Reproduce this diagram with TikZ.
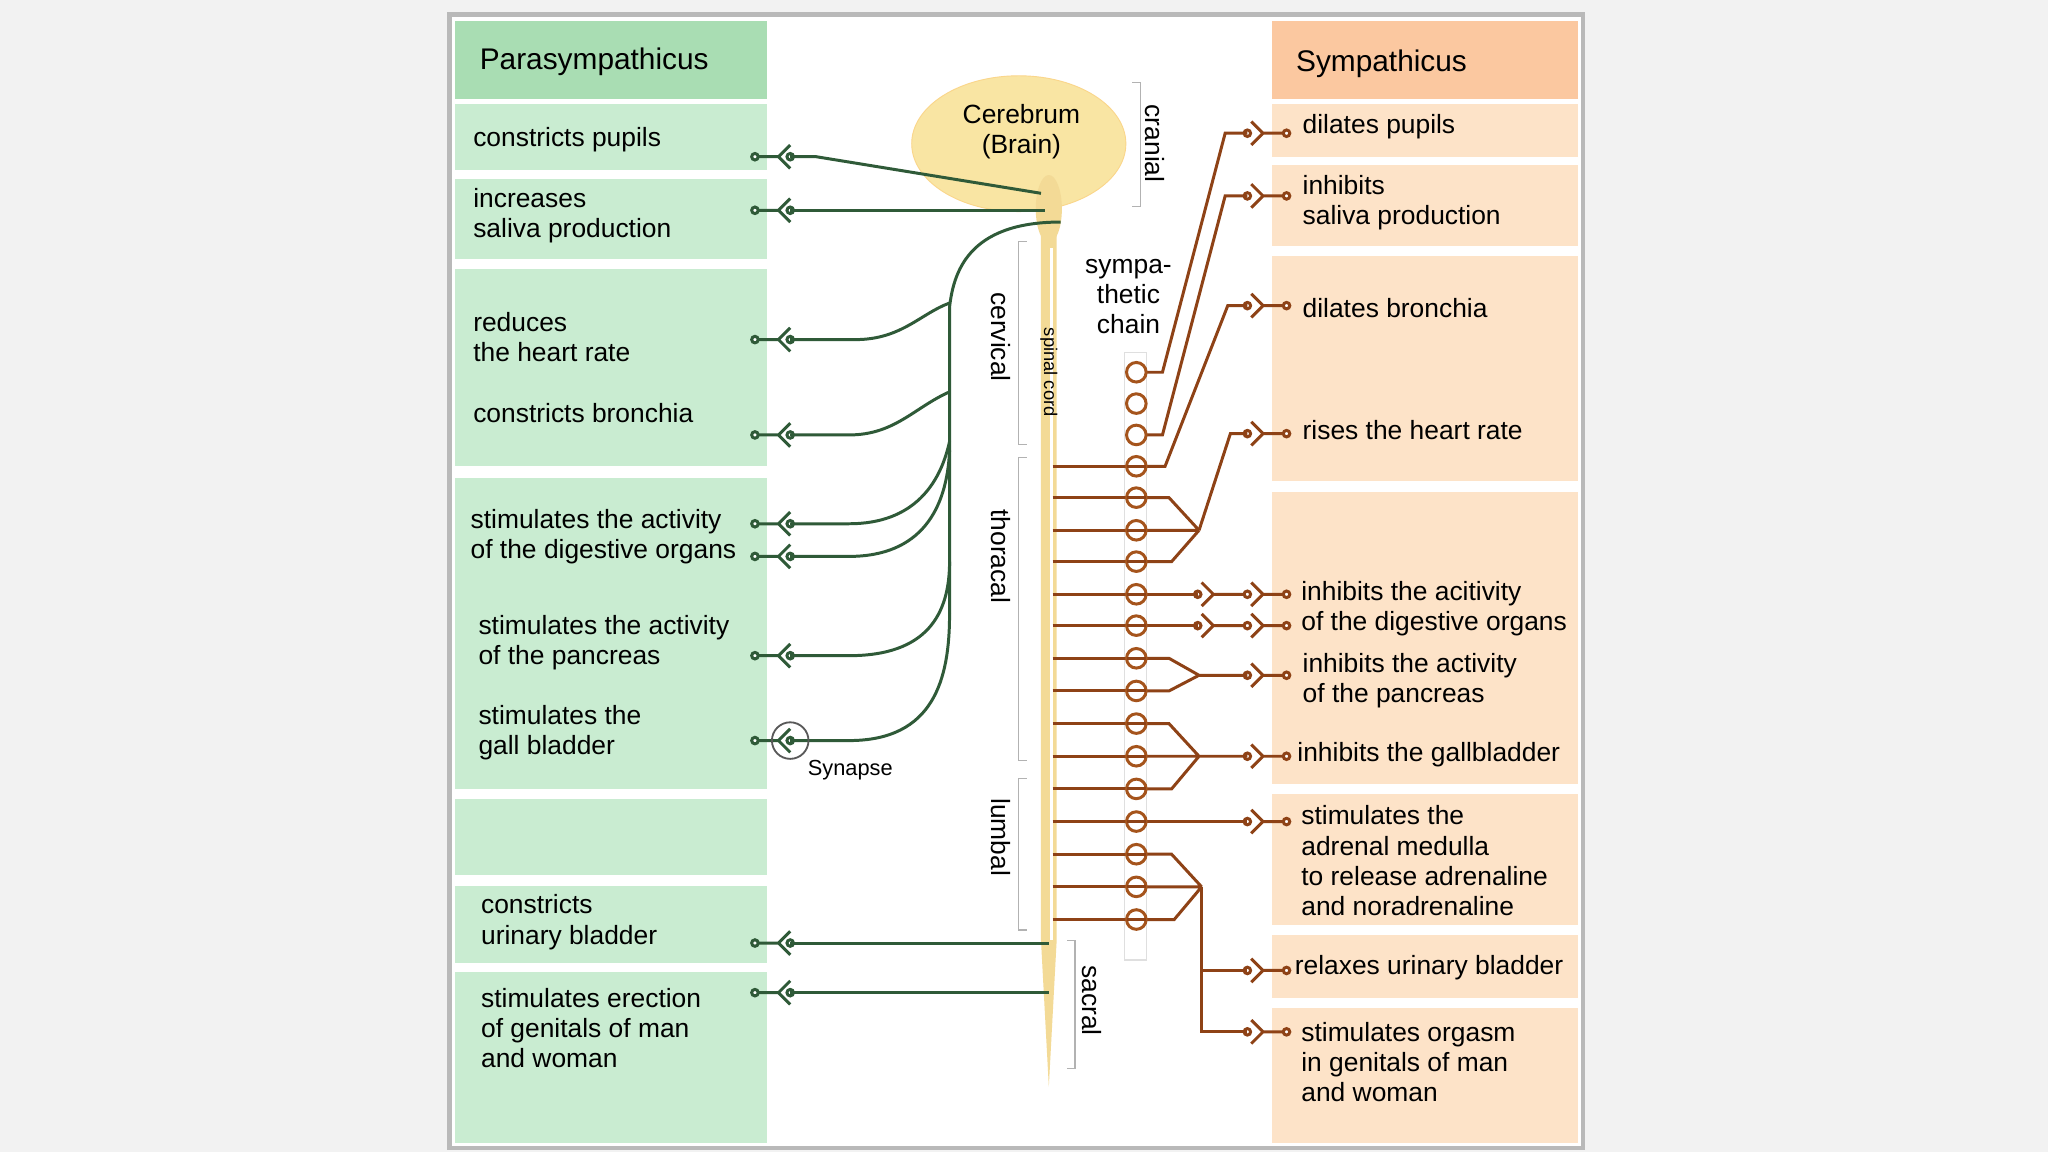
\documentclass[tikz,border=0pt]{standalone}
\usepackage{fontspec}
\setmainfont{Liberation Sans}
\usetikzlibrary{shapes.geometric}
\begin{document}
\begin{tikzpicture}[x=0.02cm,y=-0.02cm,
  lab/.style={anchor=west,align=left,inner sep=0pt,font=\fontsize{11.5}{13.2}\selectfont},
  head/.style={anchor=west,inner sep=0pt,font=\fontsize{13}{15}\selectfont},
  gl/.style={draw=gline,line width=1.3pt},
  ol/.style={draw=oline,line width=1.3pt},
  gang/.style={draw=gang,line width=1.3pt,fill=white},
  brk/.style={draw=gray!60,line width=0.5pt},
  osyn/.pic={\draw[ol] (0,0) circle (2.5) (3,-9)--(12,0)--(3,9) (12,0)--(27.5,0); \draw[ol,fill=white] (30,0) circle (2.5);},
  osynb/.pic={\draw[ol] (0,0) circle (2.5) (3,-9)--(12,0)--(3,9) (12,0)--(35,0);},
  gsyn/.pic={\draw[gl] (0,0) circle (2.5) (0,-9)--(-9,0)--(0,9) (-9,0)--(-24.5,0); \draw[gl,fill=white] (-27,0) circle (2.5);}
]
\definecolor{bg}{HTML}{F2F2F2}
\definecolor{gh}{HTML}{A9DDB3}
\definecolor{gb}{HTML}{C9ECD1}
\definecolor{oh}{HTML}{FBC8A0}
\definecolor{ob}{HTML}{FDE3C8}
\definecolor{gline}{HTML}{2F5A38}
\definecolor{oline}{HTML}{8E4216}
\definecolor{gang}{HTML}{A5541C}
\definecolor{brain}{HTML}{F9E5A3}
\definecolor{cord}{HTML}{F3DA96}
\useasboundingbox (0,0) rectangle (1568,882);
\fill[bg] (0,0) rectangle (1568,882);
\draw[fill=white,draw=gray!55,line width=2pt] (344,11) rectangle (1212,879);
% green column
\fill[gh] (348,16) rectangle (587,76);
\foreach \a/\b in {80/130,137/198,206/357,366/604,612/670,678/737,744/875}
  \fill[gb] (348,\a) rectangle (587,\b);
% orange column
\fill[oh] (974,16) rectangle (1208,76);
\foreach \a/\b in {80/120,126/188,196/368,377/600,608/708,716/764,772/875}
  \fill[ob] (974,\a) rectangle (1208,\b);
\node[head] (ph) at (367,47) {Parasympathicus};
\node[head] (sh) at (992,49) {Sympathicus};
% brain and cord
\node[ellipse,draw=brain!85!orange,fill=brain,minimum width=3.28cm,minimum height=2.08cm,inner sep=0pt] (brainn) at (780,110) {};
\node[align=center,inner sep=0pt,font=\fontsize{11.5}{13.2}\selectfont] (braint) at (782,101) {Cerebrum\\(Brain)};
\fill[cord] (797,170) -- (797,720) -- (803,832) -- (809,720) -- (809,170) -- cycle;
\fill[cord] (803,160) ellipse (10 and 26);
\draw[white,line width=1.2pt] (805,190) -- (805,720);
\node[rotate=-90,inner sep=0pt,font=\fontsize{8}{9}\selectfont] (sc) at (803,285) {spinal cord};
% brackets
\draw[brk] (867,63)--(873,63)--(873,158)--(867,158);
\draw[brk] (786,185)--(780,185)--(780,340)--(786,340);
\draw[brk] (786,350)--(780,350)--(780,582)--(786,582);
\draw[brk] (786,596)--(780,596)--(780,712)--(786,712);
\draw[brk] (817,720)--(823,720)--(823,818)--(817,818);
\node[rotate=-90,font=\fontsize{11.5}{13}\selectfont] (cran) at (884,110) {cranial};
\node[rotate=-90,font=\fontsize{11.5}{13}\selectfont] (cerv) at (766,258) {cervical};
\node[rotate=-90,font=\fontsize{11.5}{13}\selectfont] (thor) at (766,426) {thoracal};
\node[rotate=-90,font=\fontsize{11.5}{13}\selectfont] (lumb) at (766,641) {lumbal};
\node[rotate=-90,font=\fontsize{11.5}{13}\selectfont] (sacr) at (836,766) {sacral};
\node[align=center,inner sep=0pt,font=\fontsize{11.5}{13.2}\selectfont] (chain) at (864,227) {sympa-\\thetic\\chain};
\draw[draw=gray!25,line width=0.6pt] (861,270) rectangle (878,735);
% parasympathetic lines
\draw[gl] (605,120) -- (625,120) -- (797,148);
\draw[gl] (605,161) -- (800,161);
\draw[gl] (812,170) .. controls (740,170) and (730,210) .. (727,235) -- (727,470);
\draw[gl] (605,260) -- (655,260) .. controls (690,260) and (705,240) .. (727,232);
\draw[gl] (605,333) -- (650,333) .. controls (685,333) and (700,312) .. (727,300);
\draw[gl] (605,401) -- (650,401) .. controls (700,401) and (720,370) .. (727,338);
\draw[gl] (605,426) -- (650,426) .. controls (705,426) and (725,390) .. (727,345);
\draw[gl] (605,502) -- (650,502) .. controls (710,502) and (727,470) .. (727,430);
\draw[gl] (605,567) -- (650,567) .. controls (715,567) and (727,520) .. (727,470);
\draw[gl] (605,722) -- (803,722);
\draw[gl] (605,760) -- (803,760);
\foreach \y in {120,161,260,333,401,426,502,567,722,760} \pic at (605,\y) {gsyn};
\draw[gray!70!black,line width=0.8pt] (605,567) circle (14);
\node[inner sep=0pt,font=\fontsize{9.5}{11}\selectfont] (syn) at (651,590) {Synapse};
% sympathetic preganglionic
\foreach \y in {357,381,406,430,455,479,504,529,554,579,604,629,654,679,704}
  \draw[ol] (806,\y) -- (870,\y);
% postganglionic
\draw[ol] (870,285) -- (890,285) -- (938,102) -- (955,102);
\draw[ol] (870,333) -- (890,333) -- (938,150) -- (955,150);
\draw[ol] (870,357) -- (892,357) -- (940,234) -- (955,234);
\draw[ol] (870,381) -- (895,381) -- (918,406) (870,406) -- (918,406) (870,430) -- (897,430) -- (918,406);
\draw[ol] (918,406) -- (942,332) -- (955,332);
\draw[ol] (870,455) -- (917,455);
\draw[ol] (870,479) -- (917,479);
\draw[ol] (870,504) -- (895,504) -- (918,517) -- (955,517) (870,529) -- (895,529) -- (918,517);
\draw[ol] (870,554) -- (895,554) -- (918,579) (870,579) -- (955,579) (870,604) -- (897,604) -- (918,579);
\draw[ol] (870,629) -- (955,629);
\draw[ol] (870,654) -- (897,654) -- (920,679) (870,679) -- (920,679) (870,704) -- (899,704) -- (920,679);
\draw[ol] (920,679) -- (920,790) -- (955,790) (920,743) -- (955,743);
\foreach \y in {455,479} \pic at (917,\y) {osynb};
\foreach \y in {102,150,234,332,455,479,517,579,629,743,790} \pic at (955,\y) {osyn};
% ganglia
\foreach \y in {285,309,333,357,381,406,430,455,479,504,529,554,579,604,629,654,679,704}
  \draw[gang] (870,\y) circle (7.5);
\foreach \y in {357,381,406,430,455,479,504,529,554,579,604,629,654,679,704}
  \draw[ol] (862.5,\y) -- (877.5,\y);
% left labels
\node[lab] (l1) at (362,107) {constricts pupils};
\node[lab] (l2) at (362,165) {increases\\saliva production};
\node[lab] (l3) at (362,258) {reduces\\the heart rate};
\node[lab] (l4) at (362,316) {constricts bronchia};
\node[lab] (l5) at (360,411) {stimulates the activity\\of the digestive organs};
\node[lab] (l6) at (366,492) {stimulates the activity\\of the pancreas};
\node[lab] (l7) at (366,561) {stimulates the\\gall bladder};
\node[lab] (l8) at (368,706) {constricts\\urinary bladder};
\node[lab] (l9) at (368,787) {stimulates erection\\of genitals of man\\and woman};
% right labels
\node[lab] (r1) at (997,97) {dilates pupils};
\node[lab] (r2) at (997,155) {inhibits\\saliva production};
\node[lab] (r3) at (997,236) {dilates bronchia};
\node[lab] (r4) at (997,329) {rises the heart rate};
\node[lab] (r5) at (996,466) {inhibits the acitivity\\of the digestive organs};
\node[lab] (r6) at (997,521) {inhibits the activity\\of the pancreas};
\node[lab] (r7) at (993,578) {inhibits the gallbladder};
\node[lab] (r8) at (996,659) {stimulates the\\adrenal medulla\\to release adrenaline\\and noradrenaline};
\node[lab] (r9) at (991,741) {relaxes urinary bladder};
\node[lab] (r10) at (996,813) {stimulates orgasm\\in genitals of man\\and woman};
\end{tikzpicture}
\end{document}
